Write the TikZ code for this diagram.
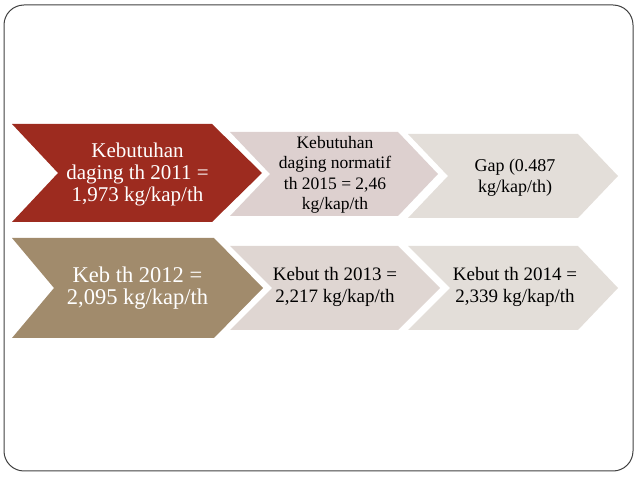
\documentclass[tikz,border=0pt]{standalone}
\usepackage{fontspec}
\setmainfont{Liberation Serif}
\definecolor{cred}{RGB}{157,43,31}
\definecolor{ctan}{RGB}{161,139,108}
\definecolor{cpink}{RGB}{221,208,207}
\definecolor{cgray}{RGB}{227,222,217}
\definecolor{cpink2}{RGB}{223,214,210}
\tikzset{
  lbl/.style={align=center, inner sep=0pt, font=\fontsize{17.5}{20.4}\selectfont, text=black},
  lbltwo/.style={align=center, inner sep=0pt, font=\fontsize{19}{22.5}\selectfont, text=black},
  biglbl/.style={align=center, inner sep=0pt, font=\fontsize{21}{22}\selectfont, text=white},
}
\begin{document}
\begin{tikzpicture}[x=1pt,y=-1pt]
\useasboundingbox (0,0) rectangle (638,478);
\draw[line width=1pt, draw=black!75, rounded corners=20pt] (4,5) rectangle (633,471);
% row 1
\fill[cred] (12,124) -- (212,124) -- (262,173) -- (212,222) -- (12,222) -- (58,173) -- cycle;
\fill[cpink] (230,132) -- (398,132) -- (438,174) -- (398,216) -- (230,216) -- (270,174) -- cycle;
\fill[cgray] (408,134) -- (578,134) -- (618,176) -- (578,218) -- (408,218) -- (448,176) -- cycle;
\node[biglbl] (a) at (137.5,174) {Kebutuhan\\daging th 2011 =\\1,973 kg/kap/th};
\node[lbl] (b) at (335,175) {Kebutuhan\\daging normatif\\th 2015 = 2,46\\kg/kap/th};
\node[lbl, font=\fontsize{18}{21}\selectfont] (c) at (515,178) {Gap (0.487\\kg/kap/th)};
% row 2
\fill[ctan] (12,238) -- (214,238) -- (263,288) -- (214,338) -- (12,338) -- (54,288) -- cycle;
\fill[cpink2] (230,246) -- (398,246) -- (440,288) -- (398,330) -- (230,330) -- (272,288) -- cycle;
\fill[cgray] (408,246) -- (578,246) -- (618,288) -- (578,330) -- (408,330) -- (450,288) -- cycle;
\node[biglbl, font=\fontsize{22.5}{22.5}\selectfont] (d) at (137.5,288) {Keb th 2012 =\\2,095 kg/kap/th};
\node[lbltwo] (e) at (335,287) {Kebut th 2013 =\\2,217 kg/kap/th};
\node[lbltwo] (f) at (515,287) {Kebut th 2014 =\\2,339 kg/kap/th};
\end{tikzpicture}
\end{document}
